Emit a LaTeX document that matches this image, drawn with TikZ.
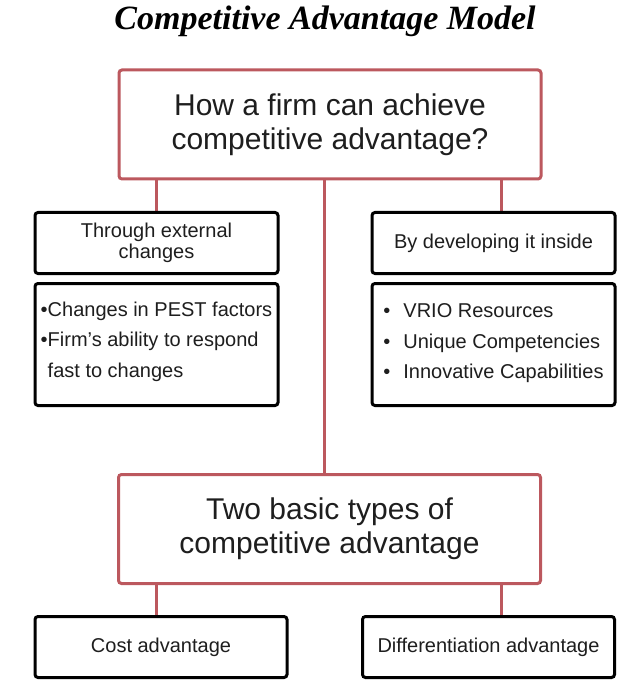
\documentclass[tikz,border=0pt]{standalone}
\usepackage{fontspec}
\setmainfont{Liberation Sans}
\newfontfamily\titlefont{Liberation Serif}
\usepackage{xcolor}
\usepackage{tikz}
\usetikzlibrary{positioning,backgrounds}

\definecolor{boxred}{RGB}{188,88,94}
\definecolor{inktext}{RGB}{30,30,30}

\tikzset{
    redbox/.style={draw=boxred, line width=3pt, rounded corners=3pt, fill=white,
        text=inktext, align=center, minimum width=422pt, minimum height=109pt,
        font=\fontsize{30}{34}\selectfont},
    blackbox/.style={draw=black, line width=3pt, rounded corners=3pt, fill=white,
        text=inktext, minimum width=243pt, minimum height=61pt,
        font=\fontsize{20}{21}\selectfont, align=center},
    listbox/.style={blackbox, minimum height=122pt, align=left,
        font=\fontsize{20}{30.5}\selectfont},
    link/.style={draw=boxred, line width=3pt}
}

\begin{document}
\begin{tikzpicture}[x=1pt, y=-1pt, node distance=7pt]
    \useasboundingbox (0,0) rectangle (641,700);

    \node (title) at (325,21) {\titlefont\bfseries\itshape\fontsize{34}{34}\selectfont Competitive Advantage Model};

    \node [redbox] (how) at (330,124.5) {How a firm can achieve\\competitive advantage?};

    \node [blackbox] (lhead) at (156.5,243) {Through external\\changes};
    \node [blackbox] (rhead) at (493.5,243) {By developing it inside};

    \node [listbox, below=of lhead, inner xsep=2pt] (llist)
        {\textbullet Changes in PEST factors\\
         \textbullet Firm’s ability to respond\\
         \phantom{\textbullet}fast to changes\vspace{6pt}};
    \node [listbox, below=of rhead, inner xsep=6pt] (rlist)
        {\makebox[20pt][l]{\textbullet}VRIO Resources\\
         \makebox[20pt][l]{\textbullet}Unique Competencies\\
         \makebox[20pt][l]{\textbullet}Innovative Capabilities\vspace{2pt}};

    \node [redbox] (two) at (329.5,529) {Two basic types of\\competitive advantage};

    \node [blackbox, minimum width=252pt] (cost) at (161,647) {Cost advantage};
    \node [blackbox, minimum width=252pt] (diff) at (488.5,647) {Differentiation advantage};

    % red connectors, behind the boxes
    \coordinate (rx) at ([xshift=7.5]rhead.north);
    \coordinate (mx) at ([xshift=-6]how.south);
    \begin{scope}[on background layer]
        \draw [link] (how.south -| lhead) -- (lhead.north);
        \draw [link] (how.south -| rx) -- (rx);
        \draw [link] (mx) -- (mx |- two.north);
        \draw [link] (two.south -| lhead) -- (lhead |- cost.north);
        \draw [link] (two.south -| rx) -- (rx |- diff.north);
    \end{scope}
\end{tikzpicture}
\end{document}
